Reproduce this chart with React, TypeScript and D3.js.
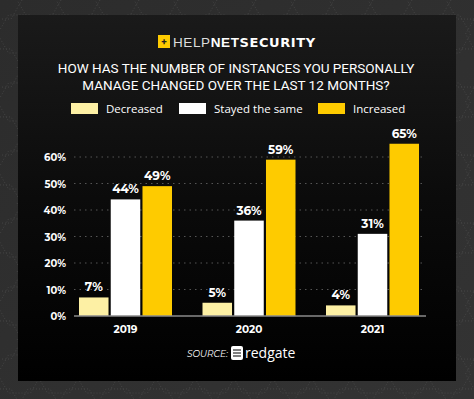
import React from "react";
import * as d3 from "d3";

const years = ["2019", "2020", "2021"];
const seriesNames = ["Decreased", "Stayed the same", "Increased"];
const decreased = [7, 5, 4];
const stayed = [44, 36, 31];
const increased = [49, 59, 65];
const yTicks = [0, 10, 20, 30, 40, 50, 60];
const colors = ["#fdf0a4", "#ffffff", "#fecb00"];

const W = 474;
const H = 399;
const font = "Montserrat, 'Open Sans', Lato, sans-serif";

// hexagon outline for the background pattern
const hexPath = (cx: number, cy: number, r: number) =>
  d3.range(6)
    .map((i) => {
      const a = (Math.PI / 3) * i;
      return `${i ? "L" : "M"}${cx + r * Math.cos(a)},${cy + r * Math.sin(a)}`;
    })
    .join("") + "Z";

export default function App() {
  const values = [decreased, stayed, increased];

  const x0 = d3.scaleBand().domain(years).range([79, 419]).paddingInner(0.247).paddingOuter(0);
  const x1 = d3.scaleBand().domain(seriesNames).range([0, x0.bandwidth()]).paddingInner(0.07);
  const y = d3.scaleLinear().domain([0, 60]).range([316, 157]);

  const hexes: string[] = [];
  for (let row = 0; row < 16; row++) {
    for (let col = 0; col < 20; col++) {
      const cx = col * 39 + (row % 2 ? 19.5 : 0);
      const cy = row * 34;
      hexes.push(hexPath(cx, cy, 22));
    }
  }

  const legend = [
    { x: 71, tx: 106 },
    { x: 179, tx: 214 },
    { x: 318, tx: 353 },
  ];

  return (
    <svg
      width={W}
      height={H}
      style={{ position: "absolute", left: 0, top: 0, fontFamily: font }}
    >
      <defs>
        <linearGradient id="outer" x1="0" y1="0" x2="1" y2="1">
          <stop offset="0" stopColor="#2c2c2c" />
          <stop offset="1" stopColor="#333333" />
        </linearGradient>
        <linearGradient id="panel" x1="0" y1="0" x2="0" y2="1">
          <stop offset="0" stopColor="#1a1a1a" />
          <stop offset="0.5" stopColor="#0b0b0b" />
          <stop offset="1" stopColor="#000000" />
        </linearGradient>
      </defs>
      <rect width={W} height={H} fill="url(#outer)" />
      <g fill="none" stroke="#5a5a5a" strokeWidth={1} strokeDasharray="1,2" opacity={0.5}>
        {hexes.map((d, i) => (
          <path key={i} d={d} />
        ))}
      </g>
      <rect x={18} y={15} width={438} height={366} fill="url(#panel)" />

      {/* logo */}
      <rect x={158} y={35} width={12} height={13} fill="#fecb00" />
      <text x={164} y={45} textAnchor="middle" fontSize={10} fontWeight={700} fill="#222">+</text>
      <text x={173} y={47} fontSize={13.5} fill="#fff" fontFamily="'Liberation Sans', Arial, sans-serif" letterSpacing={0.6}>
        <tspan fontWeight={300} fill="#ddd">HELP</tspan>
        <tspan fontWeight={700}>NET</tspan>
        <tspan fontWeight={900} fontFamily="'DejaVu Sans', sans-serif" fontSize={13}>SECURITY</tspan>
      </text>

      {/* title */}
      <text x={236} y={73} textAnchor="middle" fontSize={13.5} fill="#fff" fontFamily="Roboto, sans-serif">
        HOW HAS THE NUMBER OF INSTANCES YOU PERSONALLY
      </text>
      <text x={236} y={90} textAnchor="middle" fontSize={13.5} fill="#fff" fontFamily="Roboto, sans-serif">
        MANAGE CHANGED OVER THE LAST 12 MONTHS?
      </text>

      {/* legend */}
      {seriesNames.map((s, i) => (
        <g key={s}>
          <rect x={legend[i].x} y={103} width={27} height={11} fill={colors[i]} />
          <text x={legend[i].tx} y={113} fontSize={11.5} fill="#fff" fontFamily="'Open Sans', sans-serif">
            {s}
          </text>
        </g>
      ))}

      {/* grid + y axis */}
      {yTicks.map((t) => (
        <g key={t}>
          {t > 0 && (
            <line x1={74} x2={426} y1={y(t)} y2={y(t)} stroke="#555" strokeDasharray="1.5,4" />
          )}
          <text x={66} y={y(t) + 4} textAnchor="end" fontSize={10} fontWeight={700} fill="#fff">
            {t}%
          </text>
        </g>
      ))}

      {/* bars */}
      {years.map((yr, gi) => (
        <g key={yr} transform={`translate(${x0(yr)},0)`}>
          {seriesNames.map((s, si) => {
            const v = values[si][gi];
            const bx = x1(s)!;
            return (
              <g key={s}>
                <rect x={bx} y={y(v)} width={x1.bandwidth()} height={y(0) - y(v)} fill={colors[si]} />
                <text
                  x={bx + x1.bandwidth() / 2}
                  y={y(v) - 6}
                  textAnchor="middle"
                  fontSize={12}
                  fontWeight={700}
                  fill="#fff"
                >
                  {v}%
                </text>
              </g>
            );
          })}
          <text x={x0.bandwidth() / 2} y={333} textAnchor="middle" fontSize={10.5} fontWeight={700} fill="#fff">
            {yr}
          </text>
        </g>
      ))}
      <line x1={74} x2={426} y1={y(0)} y2={y(0)} stroke="#8a8a8a" strokeWidth={1.5} />

      {/* source */}
      <text x={187} y={357} fontSize={9} fontStyle="italic" fill="#fff">SOURCE:</text>
      <rect x={231} y={346} width={12} height={14} rx={2} fill="#fff" />
      <g stroke="#000" strokeWidth={1}>
        <line x1={233} x2={241} y1={350} y2={350} />
        <line x1={233} x2={241} y1={353} y2={353} />
        <line x1={233} x2={241} y1={356} y2={356} />
      </g>
      <text x={245} y={358} fontSize={14} fill="#fff" fontFamily="'Open Sans', sans-serif">redgate</text>
    </svg>
  );
}
